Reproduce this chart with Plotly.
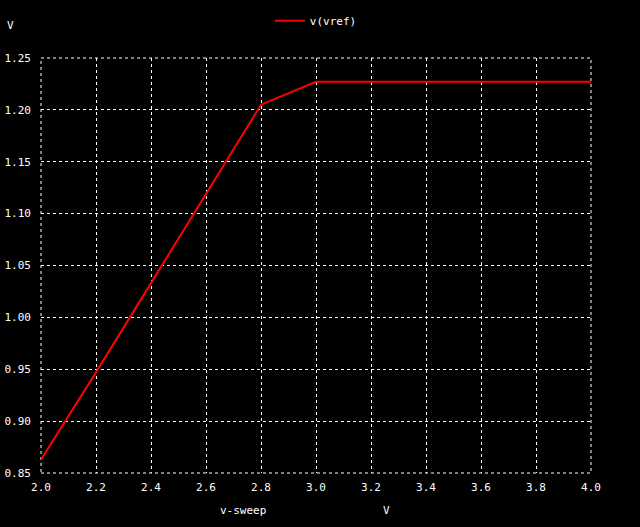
import plotly.graph_objects as go

# ── Data ─────────────────────────────────────────────────────────────────────

V_SWEEP = [2.0, 2.2, 2.4, 2.6, 2.8, 3.0, 3.2, 3.4, 3.6, 3.8, 4.0]
V_REF = [0.863, 0.947, 1.033, 1.119, 1.205, 1.227, 1.227, 1.227, 1.227, 1.227, 1.227]

X_TICKS = [2.0, 2.2, 2.4, 2.6, 2.8, 3.0, 3.2, 3.4, 3.6, 3.8, 4.0]
Y_TICKS = [0.85, 0.90, 0.95, 1.00, 1.05, 1.10, 1.15, 1.20, 1.25]

FONT = dict(family="DejaVu Sans Mono", size=11, color="#ffffff")
GRID = dict(showgrid=True, gridcolor="#ffffff", gridwidth=1, griddash="dot",
            zeroline=False, showline=False, ticks="", tickfont=FONT, automargin=False)

fig = go.Figure(go.Scatter(
    x=V_SWEEP, y=V_REF, mode="lines", name="v(vref)",
    line=dict(color="#ff0000", width=2),
))

fig.update_layout(
    width=640, height=527,
    paper_bgcolor="#000000", plot_bgcolor="#000000",
    margin=dict(l=41, r=49, t=58, b=54, autoexpand=False),
    font=FONT,
    showlegend=True,
    legend=dict(orientation="h", x=0.416, y=1.09, xanchor="left", yanchor="middle",
                bgcolor="rgba(0,0,0,0)", font=FONT, itemwidth=30),
    xaxis=dict(range=[2.0, 4.0], tickvals=X_TICKS, tickformat=".1f",
               ticklabelstandoff=6, **GRID),
    yaxis=dict(range=[0.85, 1.25], tickvals=Y_TICKS, tickformat=".2f",
               ticklabelstandoff=9, **GRID),
    # dotted frame, gridlines at the range edges are not drawn by plotly
    shapes=[dict(type="rect", xref="paper", yref="paper", x0=0, x1=1, y0=0, y1=1,
                 line=dict(color="#ffffff", width=1, dash="dot"), layer="below")],
    annotations=[
        dict(text="V", x=-0.066, y=1.099, xanchor="left"),
        dict(text="v-sweep", x=0.368, y=-0.111),
        dict(text="V", x=0.629, y=-0.111),
    ],
)
fig.update_annotations(xref="paper", yref="paper", showarrow=False)

fig.write_html(
    "out.html",
    config={"displayModeBar": False},
    post_script="document.body.style.margin='0';document.body.style.background='#000';",
)
